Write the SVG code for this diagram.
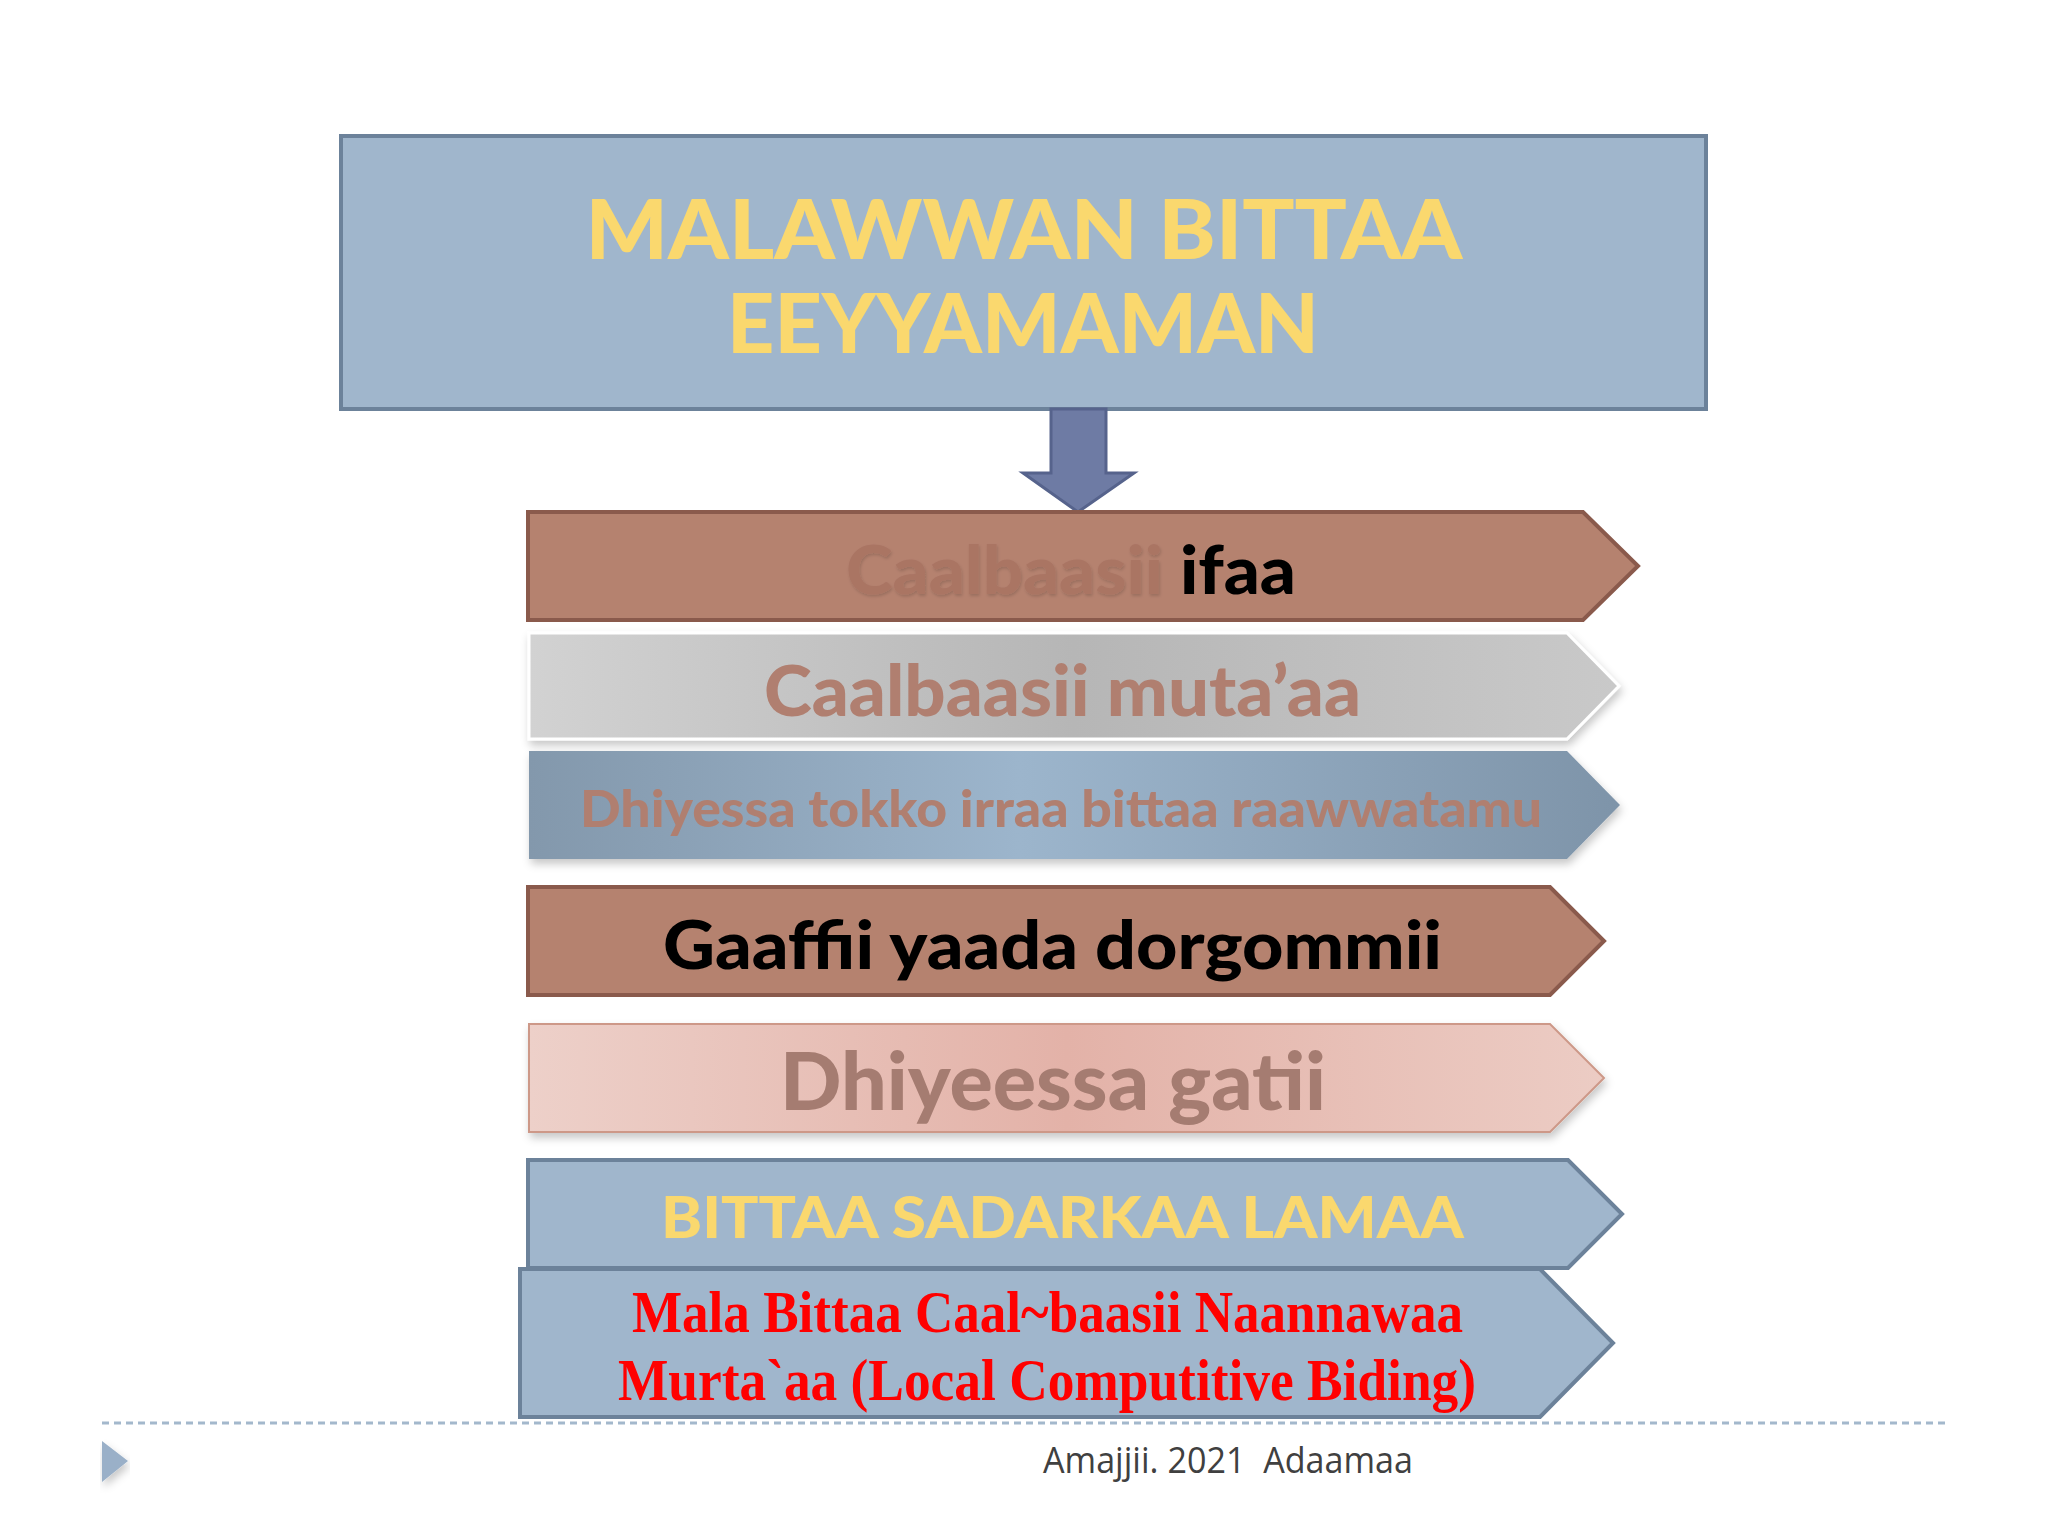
<svg xmlns="http://www.w3.org/2000/svg" width="2048" height="1536" viewBox="0 0 2048 1536">
<style>
.sans{font-family:Lato,"Open Sans","Liberation Sans",sans-serif;font-weight:900}
.serif{font-family:"Liberation Serif","DejaVu Serif",serif;fill:#FF0000;font-weight:700}
.brown{fill:#B5826F;stroke:#8A5A4C;stroke-width:4}
.blue{fill:#A0B6CC;stroke:#6C829A;stroke-width:4}
.yellow{fill:#FAD86E}
</style>
<defs>
<linearGradient id="gGray" x1="0" y1="0" x2="1" y2="0">
<stop offset="0" stop-color="#D2D2D2"/><stop offset="0.5" stop-color="#B6B6B6"/><stop offset="1" stop-color="#C9C9C9"/>
</linearGradient>
<linearGradient id="gBlue" x1="0" y1="0" x2="1" y2="0">
<stop offset="0" stop-color="#8398AC"/><stop offset="0.45" stop-color="#9CB5CC"/><stop offset="1" stop-color="#7E94A9"/>
</linearGradient>
<linearGradient id="gPink" x1="0" y1="0" x2="1" y2="0">
<stop offset="0" stop-color="#EDD0C9"/><stop offset="0.5" stop-color="#E3B2A8"/><stop offset="1" stop-color="#ECCCC4"/>
</linearGradient>
<filter id="sh" x="-5%" y="-20%" width="110%" height="150%">
<feDropShadow dx="2" dy="5" stdDeviation="4" flood-color="#000" flood-opacity="0.22"/>
</filter>
<filter id="tsh" x="-5%" y="-20%" width="110%" height="150%">
<feDropShadow dx="1" dy="2" stdDeviation="1.5" flood-color="#000" flood-opacity="0.15"/>
</filter>
</defs>
<rect width="2048" height="1536" fill="#FFFFFF"/>

<g id="title">
<rect x="341" y="136" width="1365" height="273" class="blue"/>
<text x="1024" y="259" text-anchor="middle" class="sans yellow" font-size="82" textLength="877" lengthAdjust="spacingAndGlyphs">MALAWWAN BITTAA</text>
<text x="1023" y="353" text-anchor="middle" class="sans yellow" font-size="82" textLength="592" lengthAdjust="spacingAndGlyphs">EEYYAMAMAN</text>
</g>

<g id="connectors">
<path d="M1051,409 L1106,409 L1106,473 L1134,473 L1078,512 L1023,473 L1051,473 Z" fill="#6E7BA4" stroke="#56638C" stroke-width="3"/>
</g>

<g id="n1">
<path d="M528,512 L1583,512 L1638,566 L1583,620 L528,620 Z" class="brown"/>
<text x="846" y="594" class="sans" font-size="66" textLength="450" lengthAdjust="spacingAndGlyphs"><tspan fill="#AA7564" filter="url(#tsh)">Caalbaasii</tspan><tspan fill="#000000"> ifaa</tspan></text>
</g>

<g id="n2">
<path d="M529,633 L1567,633 L1619,686 L1567,739 L529,739 Z" fill="url(#gGray)" stroke="#FFFFFF" stroke-width="3" filter="url(#sh)"/>
<text x="764" y="716" class="sans" font-size="70" fill="#B07F70" textLength="597" lengthAdjust="spacingAndGlyphs">Caalbaasii muta’aa</text>
</g>

<g id="n3">
<path d="M529,751 L1567,751 L1620,805 L1567,859 L529,859 Z" fill="url(#gBlue)" filter="url(#sh)"/>
<text x="580" y="827" class="sans" font-size="52" fill="#B07F70" textLength="962" lengthAdjust="spacingAndGlyphs">Dhiyessa tokko irraa bittaa raawwatamu</text>
</g>

<g id="n4">
<path d="M528,887 L1550,887 L1604,941 L1550,995 L528,995 Z" class="brown"/>
<text x="663" y="969" class="sans" font-size="66" fill="#000000" textLength="779" lengthAdjust="spacingAndGlyphs">Gaaffii yaada dorgommii</text>
</g>

<g id="n5">
<path d="M529,1024 L1550,1024 L1604,1078 L1550,1132 L529,1132 Z" fill="url(#gPink)" stroke="#CD9888" stroke-width="2" filter="url(#sh)"/>
<text x="780" y="1110" class="sans" font-size="80" fill="#A57C71" textLength="546" lengthAdjust="spacingAndGlyphs">Dhiyeessa gatii</text>
</g>

<g id="n6">
<path d="M528,1160 L1568,1160 L1622,1214 L1568,1268 L528,1268 Z" class="blue"/>
<text x="661" y="1238" class="sans yellow" font-size="58" textLength="803" lengthAdjust="spacingAndGlyphs">BITTAA SADARKAA LAMAA</text>
</g>

<g id="n7">
<path d="M520,1269 L1540,1269 L1613,1343 L1540,1417 L520,1417 Z" class="blue"/>
<text x="632" y="1332" class="serif" font-size="60" textLength="831" lengthAdjust="spacingAndGlyphs">Mala Bittaa Caal~baasii Naannawaa</text>
<text x="618" y="1400" class="serif" font-size="60" textLength="858" lengthAdjust="spacingAndGlyphs">Murta`aa (Local Computitive Biding)</text>
</g>

<g id="footer">
<line x1="102" y1="1423" x2="1946" y2="1423" stroke="#A3B8CC" stroke-width="3" stroke-dasharray="7,5"/>
<path d="M102,1441 L128,1461 L102,1482 Z" fill="#9AB0C8" filter="url(#sh)"/>
<text x="1043" y="1473" font-family="'Open Sans','Liberation Sans',sans-serif" font-size="36" fill="#404040" textLength="370" lengthAdjust="spacingAndGlyphs" xml:space="preserve">Amajjii. 2021  Adaamaa</text>
</g>
</svg>
